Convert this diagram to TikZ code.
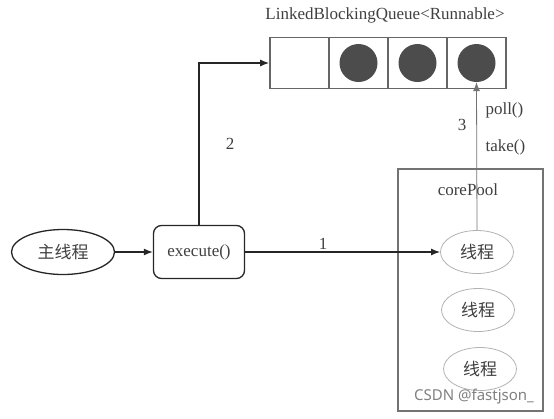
\documentclass[tikz,border=0pt]{standalone}
\usepackage{fontspec}
\setmainfont{Liberation Serif}
\newfontfamily\cjk{Noto Sans CJK SC}
\newfontfamily\wmfont{Noto Sans}
\usetikzlibrary{arrows.meta, shapes.geometric}

\def\txt{\fontsize{17}{20}\selectfont}

\begin{document}
\begin{tikzpicture}[x=1pt, y=-1pt,
  cell/.style = {draw=black!60, line width=1.6pt, minimum width=59pt, minimum height=51pt, inner sep=0pt},
  item/.style = {circle, fill=black!70, minimum size=38pt, inner sep=0pt},
  thread/.style = {ellipse, draw=black!30, line width=0.8pt, minimum width=73pt, minimum height=43pt, inner sep=0pt, font=\txt\cjk},
  call/.style = {-{Latex[length=9pt, width=7pt]}, line width=1.3pt, draw=black!85},
  fetch/.style = {-{Latex[length=9pt, width=7pt]}, line width=0.8pt, draw=black!55},
  every node/.style = {font=\txt, text=black!75}
]
\useasboundingbox (0,0) rectangle (554,418);

% Queue
\node (title) at (385,15) {LinkedBlockingQueue<Runnable>};
\node[cell] (q1) at (299.5,63) {};
\node[cell] (q2) at (358.5,63) {};
\node[cell] (q3) at (417.5,63) {};
\node[cell] (q4) at (476.5,63) {};
\node[item] (r2) at (q2) {};
\node[item] (r3) at (q3) {};
\node[item] (r4) at (q4) {};

% Caller
\node[ellipse, draw=black!85, line width=1.3pt, minimum width=103pt, minimum height=45pt, inner sep=0pt, font=\txt\cjk] (main) at (63,252) {主线程};
\node[draw=black!85, line width=1.3pt, rounded corners=8pt, minimum width=91pt, minimum height=53pt] (exec) at (199,252) {execute()};

% Pool
\node[draw=black!55, line width=2pt, minimum width=145pt, minimum height=242pt] (pool) at (470.5,290) {};
\node (poolname) at (468,190) {corePool};
\node[thread] (t1) at (477,252) {线程};
\node[thread] (t2) at (478,310) {线程};
\node[thread] (t3) at (480,369) {线程};

% Arrows
\draw[call] (main) -- (exec);
\draw[call] (exec) -- (t1) node[pos=0.4, above=-1pt] {1};
\draw[call] (exec.north) |- (q1.west) node[pos=0.25, right=23pt] {2};
\draw[fetch] (t1.north) -- (r4.south);
\node (three) at (462,125) {3};
\node[anchor=west] (poll) at (482,110) {poll()};
\node[anchor=west] (take) at (482,147) {take()};

\node[font=\wmfont\fontsize{15}{18}\selectfont, text=black!50] (csdn) at (474,397) {CSDN @fastjson\_};
\end{tikzpicture}
\end{document}
